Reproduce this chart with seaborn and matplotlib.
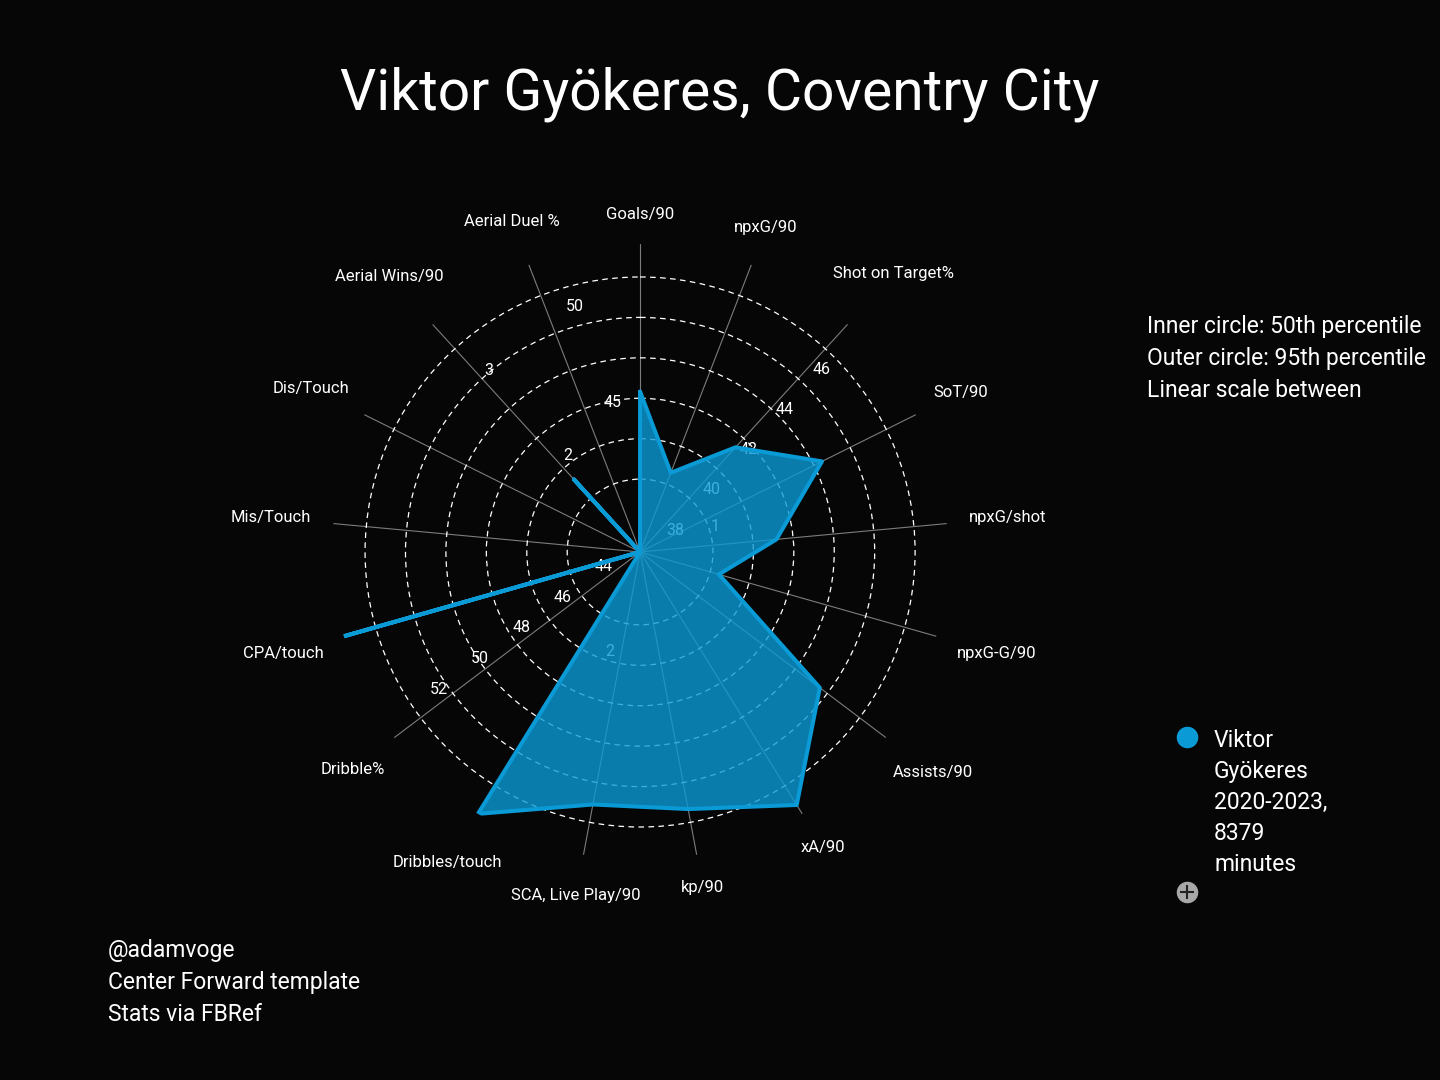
import numpy as np
import matplotlib
matplotlib.use("Agg")
import matplotlib.pyplot as plt
from matplotlib.lines import Line2D
import seaborn as sns

BG = "#060606"
BLUE = "#0a9bd7"

CATEGORIES = [
    "Goals/90", "npxG/90", "Shot on Target%", "SoT/90", "npxG/shot",
    "npxG-G/90", "Assists/90", "xA/90", "kp/90", "SCA, Live Play/90",
    "Dribbles/touch", "Dribble%", "CPA/touch", "Mis/Touch", "Dis/Touch",
    "Aerial Wins/90", "Aerial Duel %",
]
# radial position of each stat, 0 = centre, 1 = 95th percentile circle
VALUES = [
    0.583, 0.309, 0.515, 0.739, 0.498,
    0.298, 0.819, 1.082, 0.951, 0.934,
    1.12, 0.0, 1.12, 0.0, 0.0,
    0.357, 0.0,
]
RING_PCTS = [50, 59, 68, 77, 86, 95]

# per-axis raw tick values and raw value at centre / at outer circle
TICK_VALUES = {
    "Shot on Target%": [38, 40, 42, 44, 46],
    "SoT/90": [1],
    "SCA, Live Play/90": [2],
    "Dribble%": [44, 46, 48, 50, 52],
    "Aerial Wins/90": [2, 3],
    "Aerial Duel %": [45, 50],
}
AXIS_RANGES = {
    "Shot on Target%": (36.54, 46.64),
    "SoT/90": (0.681, 1.792),
    "SCA, Live Play/90": (1.53, 2.78),
    "Dribble%": (42.52, 53.24),
    "Aerial Wins/90": (0.967, 3.336),
    "Aerial Duel %": (37.77, 51.12),
}

TITLE = "Viktor Gyökeres, Coventry City"
NOTE_RIGHT = ["Inner circle: 50th percentile", "Outer circle: 95th percentile",
              "Linear scale between"]
NOTE_LEFT = ["@adamvoge", "Center Forward template", "Stats via FBRef"]
LEGEND_LINES = ["Viktor", "Gyökeres", "2020-2023,", "8379", "minutes"]

sns.set_theme(style="dark", rc={
    "figure.facecolor": BG,
    "axes.facecolor": BG,
    "savefig.facecolor": BG,
    "text.color": "white",
})
plt.rcParams["font.family"] = ["Roboto", "DejaVu Sans"]

W, H = 1440, 1080
R_MAX = 1.12

fig = plt.figure(figsize=(14.4, 10.8), dpi=100)
ax = fig.add_axes([0.2306, 0.2037, 0.4278, 0.5704], projection="polar")
ax.set_facecolor(BG)
ax.set_theta_zero_location("N")
ax.set_theta_direction(-1)
ax.set_ylim(0, R_MAX)
ax.spines["polar"].set_visible(False)

n = len(CATEGORIES)
angles = np.arange(n) * 2 * np.pi / n
ring_r = [0.265 + (p - 50) / 45 * (1 - 0.265) for p in RING_PCTS]

ax.set_xticks(angles)
ax.set_xticklabels([])
ax.set_yticks(ring_r)
ax.set_yticklabels([])
ax.xaxis.grid(True, color="#7c7c7c", linewidth=0.8, linestyle="-")
ax.yaxis.grid(True, color="white", linewidth=0.9, linestyle=(0, (4.5, 3.5)))
ax.tick_params(pad=0, length=0)

# filled polygon + edge drawn through seaborn
theta_closed = np.append(angles, angles[0] + 2 * np.pi)
r_closed = np.append(VALUES, VALUES[0])
ax.fill(theta_closed, r_closed, color=BLUE, alpha=0.8, linewidth=0, zorder=3)
sns.lineplot(x=theta_closed, y=r_closed, sort=False, estimator=None,
             color=BLUE, linewidth=2.9, ax=ax, zorder=4)
ax.set_xlabel("")
ax.set_ylabel("")
ax.set_ylim(0, R_MAX)

# per-axis tick labels, shifted a little to the clockwise side of the spoke
for name, ticks in TICK_VALUES.items():
    th = angles[CATEGORIES.index(name)]
    lo, hi = AXIS_RANGES[name]
    d = 28 if name == "Aerial Duel %" else 11
    for v in ticks:
        r = (v - lo) / (hi - lo)
        ax.annotate(str(v), xy=(th, r), xytext=(d * np.cos(th), -d * np.sin(th)),
                    textcoords="offset pixels", ha="center", va="center",
                    color="white", fontsize=11.5, zorder=2.5)

# category labels placed just outside the spokes
renderer = fig.canvas.get_renderer()
for name, th in zip(CATEGORIES, angles):
    t = ax.annotate(name, xy=(th, 1.2), xytext=(0, 0), textcoords="offset pixels",
                    ha="center", va="center", color="white", fontsize=12,
                    annotation_clip=False)
    bb = t.get_window_extent(renderer)
    ux, uy = np.sin(th), np.cos(th)
    extra = bb.width / 2 * abs(ux) + bb.height / 2 * abs(uy)
    t.xyann = (extra * ux, extra * uy)

fig.text(0.5, 1 - 88 / H, TITLE, ha="center", va="center_baseline",
         fontsize=41, color="white")


def text_block(lines, x_px, y0_px, step_px):
    for i, line in enumerate(lines):
        fig.text(x_px / W, 1 - (y0_px + i * step_px) / H, line, ha="left",
                 va="center_baseline", fontsize=16.5, color="white")


text_block(NOTE_RIGHT, 1147, 324, 32)
text_block(NOTE_LEFT, 108, 948, 32)
text_block(LEGEND_LINES, 1214, 738, 31)

fig.add_artist(Line2D([1187 / W], [1 - 737 / H], marker="o", markersize=14.5,
                      color=BLUE, linestyle="none", transform=fig.transFigure))
fig.add_artist(Line2D([1187 / W], [1 - 892 / H], marker="o", markersize=14.5,
                      color="#a8a8a8", linestyle="none", transform=fig.transFigure))
fig.add_artist(Line2D([1187 / W], [1 - 892 / H], marker="+", markersize=10,
                      color="#222222", markeredgewidth=1.5, linestyle="none",
                      transform=fig.transFigure))

fig.savefig("out.png", dpi=100, facecolor=BG)
